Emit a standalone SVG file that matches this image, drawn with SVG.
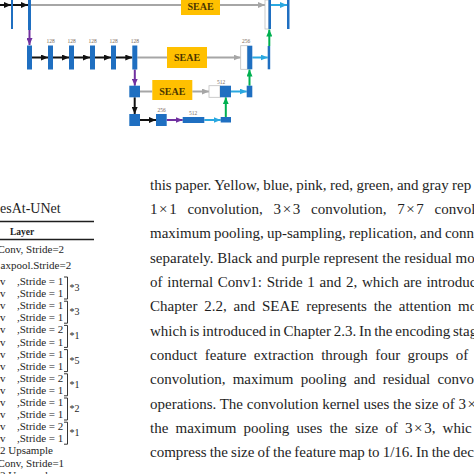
<svg xmlns="http://www.w3.org/2000/svg" width="474" height="474" viewBox="0 0 474 474">
<style>
.blk{fill:#1f6fc1}
.ghost{fill:#fff;stroke:#bfbfbf;stroke-width:0.8}
.seae{fill:#ffc000}
.seaet{font-family:"Liberation Serif",serif;font-weight:bold;font-size:10px;fill:#4a3500;text-anchor:middle}
.lbl{font-family:"Liberation Serif",serif;font-size:5.5px;fill:#7a6a5a;text-anchor:middle}
.c line{fill:none;stroke-width:2}
.k{stroke:#111}
.g{stroke:#a6a6a6}
.p{stroke:#7030a0}
.cy{stroke:#2aa8e0}
.gr{stroke:#00b050}
.body{font-family:"Liberation Serif",serif;font-size:15px;fill:#1e1e1e}
.tb{font-family:"Liberation Serif",serif;font-size:11px;fill:#1e1e1e}
</style>
<defs>
<marker id="mk" viewBox="0 0 7 6" refX="7" refY="3" markerWidth="7" markerHeight="6" markerUnits="userSpaceOnUse" orient="auto"><path d="M0,0L7,3L0,6z" fill="#111"/></marker>
<marker id="mg" viewBox="0 0 7 6" refX="7" refY="3" markerWidth="7" markerHeight="6" markerUnits="userSpaceOnUse" orient="auto"><path d="M0,0L7,3L0,6z" fill="#a6a6a6"/></marker>
<marker id="mp" viewBox="0 0 7 6" refX="7" refY="3" markerWidth="7" markerHeight="6" markerUnits="userSpaceOnUse" orient="auto"><path d="M0,0L7,3L0,6z" fill="#7030a0"/></marker>
<marker id="mc" viewBox="0 0 7 6" refX="7" refY="3" markerWidth="7" markerHeight="6" markerUnits="userSpaceOnUse" orient="auto"><path d="M0,0L7,3L0,6z" fill="#2aa8e0"/></marker>
<marker id="mgr" viewBox="0 0 7 6" refX="7" refY="3" markerWidth="7" markerHeight="6" markerUnits="userSpaceOnUse" orient="auto"><path d="M0,0L7,3L0,6z" fill="#00b050"/></marker>
</defs>
<rect width="474" height="474" fill="#fff"/>

<g id="connectors" class="c">
<line class="k" x1="0" y1="5" x2="11" y2="5" marker-end="url(#mk)"/>
<line class="k" x1="13" y1="5" x2="28" y2="5" marker-end="url(#mk)"/>
<line class="p" x1="29.5" y1="30" x2="29.5" y2="45" marker-end="url(#mp)"/>
<line class="g" x1="31" y1="5" x2="181" y2="5"/>
<line class="g" x1="220" y1="5" x2="265" y2="5" marker-end="url(#mg)"/>
<line class="cy" x1="271" y1="5" x2="287" y2="5" marker-end="url(#mc)"/>
<line class="gr" x1="269.3" y1="46" x2="269.3" y2="29.5" marker-end="url(#mgr)"/>
<line class="k" x1="32" y1="57.5" x2="48" y2="57.5" marker-end="url(#mk)"/>
<line class="k" x1="53" y1="57.5" x2="69" y2="57.5" marker-end="url(#mk)"/>
<line class="k" x1="74" y1="57.5" x2="90" y2="57.5" marker-end="url(#mk)"/>
<line class="k" x1="95" y1="57.5" x2="111" y2="57.5" marker-end="url(#mk)"/>
<line class="k" x1="116" y1="57.5" x2="132.3" y2="57.5" marker-end="url(#mk)"/>
<line class="g" x1="137.3" y1="57.5" x2="167" y2="57.5"/>
<line class="g" x1="207" y1="57.5" x2="240.7" y2="57.5" marker-end="url(#mg)"/>
<line class="cy" x1="252.3" y1="57.5" x2="267.7" y2="57.5" marker-end="url(#mc)"/>
<line class="p" x1="134.8" y1="69.5" x2="134.8" y2="85.7" marker-end="url(#mp)"/>
<line class="g" x1="140" y1="91.5" x2="152.3" y2="91.5"/>
<line class="g" x1="192.3" y1="91.5" x2="209" y2="91.5" marker-end="url(#mg)"/>
<line class="cy" x1="231" y1="91.5" x2="246.7" y2="91.5" marker-end="url(#mc)"/>
<line class="gr" x1="249.5" y1="85.7" x2="249.5" y2="69.5" marker-end="url(#mgr)"/>
<line class="k" x1="134.7" y1="97.3" x2="134.7" y2="114" marker-end="url(#mk)"/>
<line class="k" x1="140" y1="120" x2="156" y2="120" marker-end="url(#mk)"/>
<line class="p" x1="166.7" y1="120" x2="182.7" y2="120" marker-end="url(#mp)"/>
<line class="cy" x1="204.3" y1="120" x2="220.7" y2="120" marker-end="url(#mc)"/>
<line class="gr" x1="225.8" y1="117" x2="225.8" y2="97.3" marker-end="url(#mgr)"/>
</g>

<g id="bar-a"><rect class="blk" x="11" y="0" width="2" height="29"/></g>
<g id="bar-b"><rect class="blk" x="28" y="0" width="3" height="30"/></g>
<g id="seae-1"><rect class="seae" x="181" y="-3" width="39" height="18"/><text class="seaet" x="200.5" y="9.5">SEAE</text></g>
<g id="concat-1"><rect class="ghost" x="265" y="0" width="3.5" height="29"/><rect class="blk" x="268.5" y="0" width="2.5" height="29"/></g>
<g id="bar-c"><rect class="blk" x="287" y="0" width="2.5" height="29"/></g>

<g id="bar-d"><rect class="blk" x="27" y="45.5" width="5" height="24"/></g>
<g id="bar-e1"><rect class="blk" x="48" y="45.5" width="5" height="24"/><text class="lbl" x="50.5" y="43">128</text></g>
<g id="bar-e2"><rect class="blk" x="69" y="45.5" width="5" height="24"/><text class="lbl" x="71.5" y="43">128</text></g>
<g id="bar-e3"><rect class="blk" x="90" y="45.5" width="5" height="24"/><text class="lbl" x="92.5" y="43">128</text></g>
<g id="bar-e4"><rect class="blk" x="111" y="45.5" width="5" height="24"/><text class="lbl" x="113.5" y="43">128</text></g>
<g id="bar-e5"><rect class="blk" x="132.3" y="45.5" width="5" height="24"/><text class="lbl" x="134.8" y="43">128</text></g>
<g id="seae-2"><rect class="seae" x="167" y="47" width="40" height="21"/><text class="seaet" x="187" y="61">SEAE</text></g>
<g id="concat-2"><rect class="ghost" x="240.7" y="45.7" width="6.6" height="23.6"/><rect class="blk" x="247.3" y="45.7" width="5" height="23.6"/><text class="lbl" x="246" y="43">256</text></g>
<g id="bar-f"><rect class="blk" x="267.7" y="46" width="2.5" height="23.3"/></g>

<g id="block-g"><rect class="blk" x="129.3" y="85.7" width="10.7" height="11.6"/></g>
<g id="seae-3"><rect class="seae" x="152.3" y="80" width="40" height="20"/><text class="seaet" x="172.3" y="94.5">SEAE</text></g>
<g id="concat-3"><rect class="ghost" x="209" y="85.7" width="11" height="11.6"/><rect class="blk" x="220" y="85.7" width="11" height="11.6"/><text class="lbl" x="221" y="83.5">512</text></g>
<g id="bar-i"><rect class="blk" x="246.7" y="85.7" width="5.6" height="11.6"/></g>

<g id="block-j"><rect class="blk" x="129.3" y="114" width="10.7" height="12"/></g>
<g id="block-k"><rect class="blk" x="156" y="114" width="10.7" height="12"/><text class="lbl" x="161.5" y="112">256</text></g>
<g id="block-l"><rect class="blk" x="182.7" y="117" width="21.6" height="6"/><text class="lbl" x="193" y="114.5">512</text></g>
<g id="block-m"><rect class="blk" x="220.7" y="117" width="10.3" height="5.5"/></g>

<g id="table">
<text x="0" y="213" style="font-family:'Liberation Serif',serif;font-size:14px;fill:#1e1e1e">esAt-UNet</text>
<line x1="0" y1="221.5" x2="94" y2="221.5" stroke="#1e1e1e" stroke-width="1.6"/>
<text x="10" y="235" style="font-family:'Liberation Serif',serif;font-size:9.5px;font-weight:bold;fill:#1e1e1e">Layer</text>
<line x1="0" y1="239.5" x2="94" y2="239.5" stroke="#1e1e1e" stroke-width="1.3"/>
<text class="tb" x="-2.5" y="253" font-size="10.5">Conv, Stride=2</text>
<text class="tb" x="0.5" y="269" font-size="10.5">axpool.Stride=2</text>
<g class="tb">
<text x="0" y="285">v<tspan x="17">,Stride = 1</tspan></text>
<text x="0" y="297.1">v<tspan x="17">,Stride = 1</tspan></text>
<text x="0" y="309.2">v<tspan x="17">,Stride = 1</tspan></text>
<text x="0" y="321.3">v<tspan x="17">,Stride = 1</tspan></text>
<text x="0" y="333.4">v<tspan x="17">,Stride = 2</tspan></text>
<text x="0" y="345.5">v<tspan x="17">,Stride = 1</tspan></text>
<text x="0" y="357.6">v<tspan x="17">,Stride = 1</tspan></text>
<text x="0" y="369.7">v<tspan x="17">,Stride = 1</tspan></text>
<text x="0" y="381.8">v<tspan x="17">,Stride = 2</tspan></text>
<text x="0" y="393.9">v<tspan x="17">,Stride = 1</tspan></text>
<text x="0" y="406">v<tspan x="17">,Stride = 1</tspan></text>
<text x="0" y="418.1">v<tspan x="17">,Stride = 1</tspan></text>
<text x="0" y="430.2">v<tspan x="17">,Stride = 2</tspan></text>
<text x="0" y="442.3">v<tspan x="17">,Stride = 1</tspan></text>
<text x="0" y="454.4">2 Upsample</text>
<text x="-2.5" y="466.5">Conv, Stride=1</text>
<text x="0" y="478.6">2 Upsample</text>
<text x="69.5" y="291" font-size="10">*3</text>
<text x="69.5" y="315.2" font-size="10">*3</text>
<text x="69.5" y="339.4" font-size="10">*1</text>
<text x="69.5" y="363.6" font-size="10">*5</text>
<text x="69.5" y="387.8" font-size="10">*1</text>
<text x="69.5" y="412" font-size="10">*2</text>
<text x="69.5" y="436.2" font-size="10">*1</text>
</g>
<g fill="none" stroke="#1e1e1e" stroke-width="0.9">
<path d="M64,277H67.5V299H64"/>
<path d="M64,301.2H67.5V323.2H64"/>
<path d="M64,325.4H67.5V347.4H64"/>
<path d="M64,349.6H67.5V371.6H64"/>
<path d="M64,373.8H67.5V395.8H64"/>
<path d="M64,398H67.5V420H64"/>
<path d="M64,422.2H67.5V444.2H64"/>
</g>
</g>

<g id="body-text" class="body">
<text x="150" y="189.5" word-spacing="-0.3">this paper. Yellow, blue, pink, red, green, and gray rep</text>
<text x="150" y="213.9" word-spacing="7">1<tspan dx="1.6">×</tspan><tspan dx="1.6">1</tspan> convolution, 3<tspan dx="1.6">×</tspan><tspan dx="1.6">3</tspan> convolution, 7<tspan dx="1.6">×</tspan><tspan dx="1.6">7</tspan> convol</text>
<text x="150" y="238.2" word-spacing="-0.5">maximum pooling, up-sampling, replication, and conn</text>
<text x="150" y="262.6" word-spacing="0">separately. Black and purple represent the residual mo</text>
<text x="150" y="286.9" word-spacing="1">of internal Conv1: Stride 1 and 2, which are introduc</text>
<text x="150" y="311.3" word-spacing="3">Chapter 2.2, and SEAE represents the attention mo</text>
<text x="150" y="335.6" word-spacing="-1">which is introduced in Chapter 2.3. In the encoding stag</text>
<text x="150" y="360" word-spacing="3.6">conduct feature extraction through four groups of</text>
<text x="150" y="384.3" word-spacing="3.5">convolution, maximum pooling and residual convo</text>
<text x="150" y="408.7" word-spacing="0">operations. The convolution kernel uses the size of 3<tspan dx="1.6">×</tspan></text>
<text x="150" y="433" word-spacing="3.4">the maximum pooling uses the size of 3<tspan dx="1.6">×</tspan><tspan dx="1.6">3,</tspan> whic</text>
<text x="150" y="457.4" word-spacing="-0.7">compress the size of the feature map to 1/16. In the dec</text>
</g>
</svg>
